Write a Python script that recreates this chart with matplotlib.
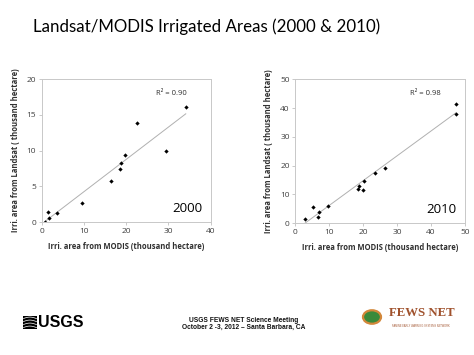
import numpy as np
import matplotlib
matplotlib.use("Agg")
import matplotlib.pyplot as plt
from matplotlib.patches import Circle, Rectangle

# ---- data (thousand hectare) ----
modis_2000 = [0.8, 1.6, 1.8, 3.6, 9.5, 16.4, 18.5, 18.8, 19.8, 22.5, 29.4, 34.1]
landsat_2000 = [0.05, 1.4, 0.65, 1.3, 2.65, 5.7, 7.5, 8.3, 9.4, 13.9, 9.95, 16.1]
modis_2010 = [2.85, 5.2, 6.6, 7.0, 9.7, 18.5, 18.8, 19.9, 20.2, 23.5, 26.3, 47.3, 47.3]
landsat_2010 = [1.4, 5.7, 2.2, 3.8, 5.9, 11.8, 12.8, 11.6, 14.6, 17.5, 19.1, 38.1, 41.3]
r2_labels = ["R² = 0.90", "R² = 0.98"]
year_labels = ["2000", "2010"]
xticks_2000 = [0, 10, 20, 30, 40]
yticks_2000 = [0, 5, 10, 15, 20]
xticks_2010 = [0, 10, 20, 30, 40, 50]
yticks_2010 = [0, 10, 20, 30, 40, 50]
title = "Landsat/MODIS Irrigated Areas (2000 & 2010)"
xlabel = "Irri. area from MODIS (thousand hectare)"
ylabel = "Irri. area from Landsat ( thousand hectare)"

fig = plt.figure(figsize=(4.74, 3.55), dpi=100)
fig.patch.set_facecolor("white")

fig.text(33 / 474, 1 - 27 / 355, title, fontsize=12.2, family=["Lato", "DejaVu Sans"],
         ha="left", va="center", color="black")

panels = [
    ([41.7 / 474, (355 - 222.3) / 355, 169 / 474, 143.3 / 355],
     modis_2000, landsat_2000, xticks_2000, yticks_2000, r2_labels[0], year_labels[0]),
    ([295.3 / 474, (355 - 223) / 355, 169.7 / 474, 143.7 / 355],
     modis_2010, landsat_2010, xticks_2010, yticks_2010, r2_labels[1], year_labels[1]),
]

for rect, xs, ys, xt, yt, r2, yr in panels:
    ax = fig.add_axes(rect)
    xs = np.array(xs); ys = np.array(ys)
    ax.set_xlim(xt[0], xt[-1]); ax.set_ylim(yt[0], yt[-1])
    ax.set_xticks(xt); ax.set_yticks(yt)
    for s in ax.spines.values():
        s.set_color("#c8c8c8"); s.set_linewidth(0.7)
    ax.tick_params(axis="both", length=2, width=0.6, color="#c0c0c0",
                   labelsize=6, labelcolor="#404040", pad=2)
    for lab in ax.get_xticklabels() + ax.get_yticklabels():
        lab.set_family(["Open Sans", "DejaVu Sans"])
    # linear trend line
    k, b = np.polyfit(xs, ys, 1)
    x0 = max(xs.min(), -b / k)
    xl = np.array([x0, xs.max()])
    ax.plot(xl, k * xl + b, color="#b0b0b0", lw=0.7, zorder=1)
    ax.plot(xs, ys, "D", color="black", ms=2.2, mec="black", mew=0, zorder=2)
    ax.text(0.86, 0.90, r2, transform=ax.transAxes, fontsize=5.5, color="#303030",
            ha="right", va="center", family=["Open Sans", "DejaVu Sans"])
    ax.text(0.86, 0.095, yr, transform=ax.transAxes, fontsize=9.5, color="black",
            ha="center", va="center", family=["Open Sans", "DejaVu Sans"])
    ax.set_xlabel(xlabel, fontsize=5.5, fontweight="bold", color="#303030",
                  family=["Open Sans", "DejaVu Sans"], labelpad=5)
    ax.set_ylabel(ylabel, fontsize=5.5, fontweight="bold", color="#303030",
                  family=["Open Sans", "DejaVu Sans"], labelpad=5)

# footer
fig.text(244 / 474, 1 - 324 / 355, "USGS FEWS NET Science Meeting\nOctober 2 -3, 2012 – Santa Barbara, CA",
         fontsize=4.8, fontweight="bold", family=["Liberation Sans", "DejaVu Sans"],
         ha="center", va="center", linespacing=0.95, color="#111111")

# USGS logo
fig.patches.append(Rectangle((23 / 474, 1 - 329 / 355), 14 / 474, 13 / 355,
                             transform=fig.transFigure, facecolor="black", edgecolor="none"))
for i in range(4):
    yy = 1 - (318.5 + i * 3) / 355
    xx = np.linspace(23.5, 36.5, 20) / 474
    fig.lines.append(plt.Line2D(xx, yy + 0.004 * np.sin(np.linspace(0, 3.2, 20)),
                                transform=fig.transFigure, color="white", lw=0.5))
fig.text(38 / 474, 1 - 322.5 / 355, "USGS", fontsize=11.5, fontweight="bold",
         family=["Liberation Sans Narrow", "Liberation Sans", "DejaVu Sans"],
         ha="left", va="center", color="black")

# FEWS NET logo
fig.patches.append(Circle((372 / 474, 1 - 317 / 355), 9 / 474, transform=fig.transFigure,
                          facecolor="#3a8a3a", edgecolor="#d2873a", lw=1.6))
fig.text(389 / 474, 1 - 313 / 355, "FEWS NET", fontsize=9.2, fontweight="bold",
         family=["Liberation Serif", "DejaVu Serif"], ha="left", va="center", color="#a0522d")
fig.text(421 / 474, 1 - 326 / 355, "FAMINE EARLY WARNING SYSTEMS NETWORK", fontsize=1.8,
         family=["Liberation Sans", "DejaVu Sans"], ha="center", va="center", color="#a0522d")

fig.savefig("out.png", dpi=100, facecolor="white")
